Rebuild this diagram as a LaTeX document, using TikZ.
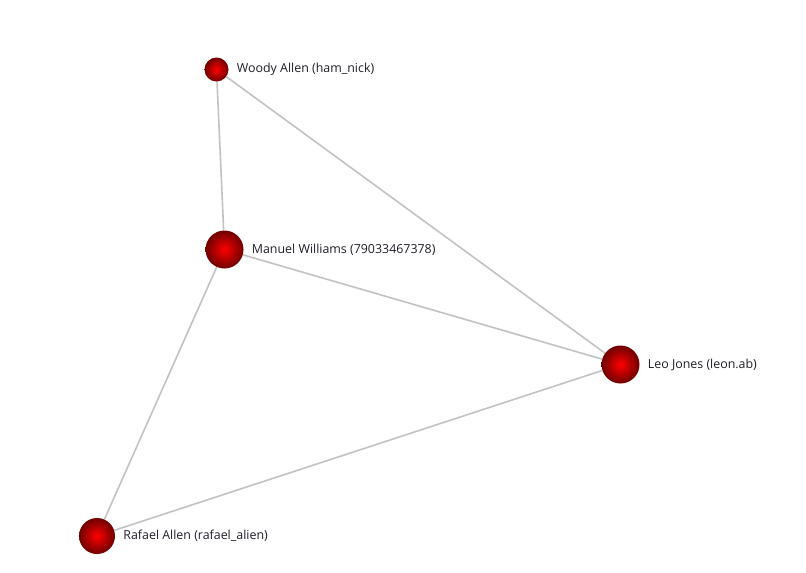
\documentclass[tikz,border=0pt]{standalone}
\usepackage{fontspec}
\setmainfont{Open Sans}
\usepackage{tikz}
\usetikzlibrary{positioning,backgrounds}
\definecolor{edgegray}{HTML}{C2C2C2}
\definecolor{nodecore}{HTML}{FF0000}
\definecolor{noderim}{HTML}{6E0000}
\definecolor{labelink}{HTML}{1E1E28}

\begin{document}
\begin{tikzpicture}[x=1pt,y=-1pt,font=\fontsize{12.4}{14}\selectfont,
  person/.style={circle,inner sep=0pt,minimum size=#1,inner color=nodecore,outer color=noderim},
  tag/.style={right=8pt,text=labelink,inner sep=0pt},
  link/.style={draw=edgegray,line width=1.6pt}]
\useasboundingbox (0,0) rectangle (806,573);
% people
\node[person=24pt] (woody) at (216.5,69.5) {};
\node[person=38pt] (manuel) at (224.5,249.5) {};
\node[person=38pt] (leo) at (620.5,364.5) {};
\node[person=36pt] (rafael) at (97,536) {};
% names
\node[tag] at (woody.east) {Woody Allen (ham\_nick)};
\node[tag] at (manuel.east) {Manuel Williams (79033467378)};
\node[tag] at (leo.east) {Leo Jones (leon.ab)};
\node[tag] at (rafael.east) {Rafael Allen (rafael\_alien)};
% links
\begin{scope}[on background layer]
\draw[link] (woody) -- (manuel);
\draw[link] (woody) -- (leo);
\draw[link] (manuel) -- (leo);
\draw[link] (manuel) -- (rafael);
\draw[link] (rafael) -- (leo);
\end{scope}
\end{tikzpicture}
\end{document}
